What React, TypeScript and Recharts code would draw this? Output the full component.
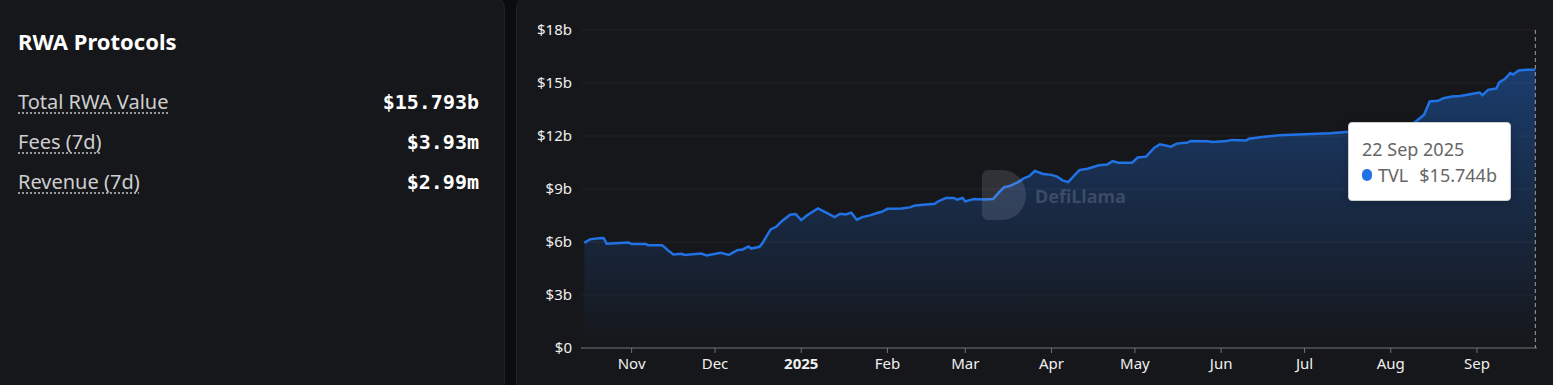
import { AreaChart, Area, XAxis, YAxis, CartesianGrid, Tooltip } from 'recharts';

// RWA TVL, billions of USD
const dates = [
  '2024-10-15', '2024-10-17', '2024-10-21', '2024-10-22', '2024-10-23', '2024-10-31', '2024-11-01',
  '2024-11-06', '2024-11-07', '2024-11-12', '2024-11-14', '2024-11-16', '2024-11-19', '2024-11-20',
  '2024-11-26', '2024-11-28', '2024-12-03', '2024-12-06', '2024-12-09', '2024-12-11', '2024-12-13',
  '2024-12-14', '2024-12-17', '2024-12-18', '2024-12-21', '2024-12-23', '2024-12-25', '2024-12-28',
  '2024-12-30', '2025-01-01', '2025-01-03', '2025-01-07', '2025-01-10', '2025-01-13', '2025-01-15',
  '2025-01-17', '2025-01-19', '2025-01-21', '2025-01-23', '2025-01-26', '2025-01-28', '2025-01-30',
  '2025-02-01', '2025-02-06', '2025-02-09', '2025-02-11', '2025-02-14', '2025-02-18', '2025-02-19',
  '2025-02-22', '2025-02-25', '2025-02-26', '2025-02-28', '2025-03-01', '2025-03-04', '2025-03-08',
  '2025-03-11', '2025-03-13', '2025-03-15', '2025-03-17', '2025-03-20', '2025-03-22', '2025-03-24',
  '2025-03-26', '2025-03-29', '2025-04-01', '2025-04-03', '2025-04-05', '2025-04-07', '2025-04-11',
  '2025-04-14', '2025-04-18', '2025-04-21', '2025-04-23', '2025-04-25', '2025-04-30', '2025-05-02',
  '2025-05-05', '2025-05-08', '2025-05-10', '2025-05-14', '2025-05-16', '2025-05-20', '2025-05-21',
  '2025-05-27', '2025-05-29', '2025-06-03', '2025-06-05', '2025-06-10', '2025-06-11', '2025-06-15',
  '2025-06-22', '2025-07-01', '2025-07-10', '2025-07-16', '2025-07-28', '2025-08-06', '2025-08-09',
  '2025-08-11', '2025-08-13', '2025-08-15', '2025-08-18', '2025-08-20', '2025-08-23', '2025-08-26',
  '2025-08-30', '2025-09-02', '2025-09-03', '2025-09-05', '2025-09-08', '2025-09-09', '2025-09-11',
  '2025-09-13', '2025-09-14', '2025-09-16', '2025-09-19', '2025-09-22',
];

const tvl = [
  5.95, 6.15, 6.22, 6.21, 5.9, 5.97, 5.88,
  5.88, 5.82, 5.82, 5.54, 5.29, 5.33, 5.27,
  5.35, 5.24, 5.39, 5.27, 5.54, 5.58, 5.75,
  5.63, 5.73, 5.92, 6.71, 6.86, 7.18, 7.54,
  7.58, 7.24, 7.5, 7.9, 7.66, 7.41, 7.6,
  7.56, 7.66, 7.26, 7.41, 7.52, 7.63, 7.71,
  7.88, 7.9, 7.96, 8.07, 8.11, 8.17, 8.28,
  8.49, 8.49, 8.4, 8.49, 8.3, 8.43, 8.4,
  8.43, 8.79, 9.11, 9.17, 9.39, 9.6, 9.73,
  10.02, 9.85, 9.8, 9.7, 9.49, 9.39, 10.07,
  10.15, 10.34, 10.38, 10.58, 10.49, 10.49, 10.78,
  10.83, 11.34, 11.53, 11.4, 11.57, 11.63, 11.72,
  11.7, 11.66, 11.72, 11.78, 11.74, 11.85, 11.93,
  12.04, 12.1, 12.16, 12.23, 12.33, 12.45, 12.7,
  12.95, 13.2, 13.95, 13.99, 14.14, 14.24, 14.27,
  14.38, 14.46, 14.31, 14.61, 14.69, 15.03, 15.22,
  15.56, 15.48, 15.71, 15.75, 15.744,
];

const monthTicks = [
  '2024-11-01', '2024-12-01', '2025-01-01', '2025-02-01', '2025-03-01', '2025-04-01',
  '2025-05-01', '2025-06-01', '2025-07-01', '2025-08-01', '2025-09-01',
];
const yTicks = [0, 3, 6, 9, 12, 15, 18];

const stats = [
  { label: 'Total RWA Value', value: '$15.793b' },
  { label: 'Fees (7d)', value: '$3.93m' },
  { label: 'Revenue (7d)', value: '$2.99m' },
];

const MONTHS = ['Jan', 'Feb', 'Mar', 'Apr', 'May', 'Jun', 'Jul', 'Aug', 'Sep', 'Oct', 'Nov', 'Dec'];
const DAY = 86400000;
const ms = (d: string) => Date.parse(d + 'T00:00:00Z');

const data = dates.map((d, i) => ({ date: d, t: ms(d), tvl: tvl[i] }));
const domain = [ms(dates[0]) - 1.2 * DAY, ms(dates[dates.length - 1]) + 0.6 * DAY];

const FONT = '"Noto Sans", sans-serif';
const BLUE = '#2172e5';

function fmtDate(d: string) {
  const dt = new Date(ms(d));
  return `${dt.getUTCDate()} ${MONTHS[dt.getUTCMonth()]} ${dt.getUTCFullYear()}`;
}

function MonthTick(props: any) {
  const { x, y, payload } = props;
  const dt = new Date(payload.value);
  const isYear = dt.getUTCMonth() === 0;
  return (
    <text x={x} y={y} dy={14} textAnchor="middle" fill="#f0f0f0" fontSize={15} fontFamily={FONT} fontWeight={isYear ? 700 : 400}>
      {isYear ? String(dt.getUTCFullYear()) : MONTHS[dt.getUTCMonth()]}
    </text>
  );
}

function TvlTooltip({ active, payload }: any) {
  if (!active || !payload || !payload.length) return null;
  const p = payload[0].payload;
  return (
    <div
      style={{
        width: 163,
        height: 79,
        boxSizing: 'border-box',
        background: '#fff',
        border: '1px solid #cfcfcf',
        borderRadius: 4,
        padding: '13px 13px',
        fontFamily: FONT,
        fontSize: 18,
        lineHeight: '26px',
        color: '#666',
        boxShadow: '1px 2px 10px rgba(0,0,0,0.2)',
        whiteSpace: 'nowrap',
      }}
    >
      <div>{fmtDate(p.date)}</div>
      <div style={{ display: 'flex', alignItems: 'center' }}>
        <span style={{ width: 12, height: 12, borderRadius: 6, background: BLUE, display: 'inline-block', marginRight: 6 }} />
        <span>TVL</span>
        <span style={{ marginLeft: 11 }}>${p.tvl.toFixed(3)}b</span>
      </div>
    </div>
  );
}

export default function App() {
  return (
    <div style={{ position: 'absolute', left: 0, top: 0, width: 1553, height: 385, overflow: 'hidden', background: '#0b0c0e', fontFamily: FONT }}>
      {/* summary panel */}
      <div style={{ position: 'absolute', left: -12, top: -4, width: 517, height: 400, background: '#16171a', border: '1px solid #202125', boxSizing: 'border-box', borderRadius: 12 }} />
      <div style={{ position: 'absolute', left: 18, top: 26, fontSize: 22, fontWeight: 700, color: '#fff', lineHeight: '30px' }}>RWA Protocols</div>
      {stats.map((s, i) => (
        <div key={s.label} style={{ position: 'absolute', left: 18, top: 92 + i * 40, width: 461, height: 26, display: 'flex', justifyContent: 'space-between', alignItems: 'baseline' }}>
          <span style={{ fontSize: 20, lineHeight: '20px', color: '#cfcfcf', textDecoration: 'underline dotted #9a9a9a', textUnderlineOffset: 3 }}>{s.label}</span>
          <span style={{ fontSize: 20, lineHeight: '20px', color: '#fff', fontWeight: 700, fontFamily: '"DejaVu Sans Mono", monospace' }}>{s.value}</span>
        </div>
      ))}

      {/* chart panel */}
      <div style={{ position: 'absolute', left: 516, top: -4, width: 1050, height: 400, background: '#16171a', border: '1px solid #202125', boxSizing: 'border-box', borderRadius: 12 }} />
      <div style={{ position: 'absolute', left: 516, top: 0 }}>
        <AreaChart width={1037} height={385} data={data} margin={{ top: 30, right: 16, bottom: 0, left: 0 }}>
          <defs>
            <linearGradient id="tvlFill" x1="0" y1="0" x2="0" y2="1">
              <stop offset="0%" stopColor={BLUE} stopOpacity={0.68} />
              <stop offset="100%" stopColor={BLUE} stopOpacity={0} />
            </linearGradient>
          </defs>
          <CartesianGrid vertical={false} stroke="#222327" />
          <XAxis
            dataKey="t"
            type="number"
            domain={domain}
            allowDataOverflow
            ticks={monthTicks.map(ms)}
            interval={0}
            height={37}
            tick={MonthTick}
            tickSize={5}
            tickLine={{ stroke: '#6e7079' }}
            axisLine={{ stroke: '#6e7079' }}
          />
          <YAxis
            type="number"
            domain={[0, 18]}
            ticks={yTicks}
            width={65}
            axisLine={false}
            tickLine={false}
            tickSize={0}
            tickMargin={9}
            tick={{ fill: '#f0f0f0', fontSize: 15, fontFamily: FONT }}
            tickFormatter={(v: number) => `$${v}${v === 0 ? '' : 'b'}`}
          />
          <Tooltip
            active
            defaultIndex={data.length - 1}
            position={{ x: 832, y: 122 }}
            content={TvlTooltip}
            cursor={{ stroke: '#a0a0a0', strokeWidth: 1, strokeDasharray: '4 3' }}
            isAnimationActive={false}
            wrapperStyle={{ outline: 'none' }}
          />
          <Area
            type="linear"
            dataKey="tvl"
            stroke={BLUE}
            strokeWidth={2.5}
            fill="url(#tvlFill)"
            dot={false}
            activeDot={false}
            isAnimationActive={false}
          />
        </AreaChart>
      </div>

      {/* watermark */}
      <svg style={{ position: 'absolute', left: 982, top: 170, pointerEvents: 'none' }} width={160} height={52}>
        <path d="M6 0 H20 A24 25 0 0 1 20 50 H6 A6 6 0 0 1 0 44 V6 A6 6 0 0 1 6 0 Z" fill="rgba(190,195,210,0.16)" />
        <text x={53} y={33} fontSize={18} fontWeight={700} fontFamily={FONT} fill="rgba(190,195,210,0.22)">DefiLlama</text>
      </svg>
    </div>
  );
}
